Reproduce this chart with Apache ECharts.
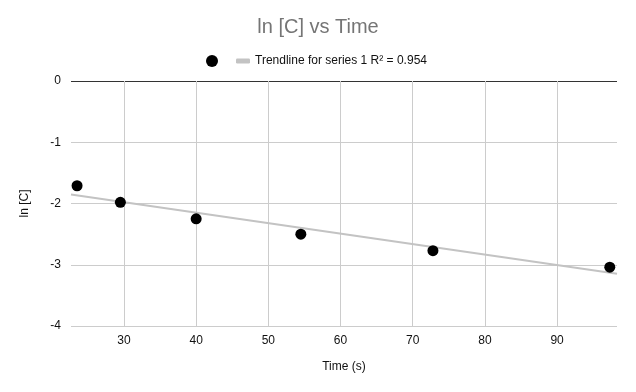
<!DOCTYPE html>
<html><head><meta charset="utf-8">
<script src="https://cdn.jsdelivr.net/npm/echarts@6/dist/echarts.min.js"></script>
<style>html,body{margin:0;padding:0;background:#fff}#c{width:636px;height:392px}</style>
</head><body><div id="c"></div>
<script>
const timeValues = [23.5, 29.5, 40.0, 54.5, 72.8, 97.3];
const lnCValues = [-1.71, -1.98, -2.25, -2.50, -2.77, -3.04];
const trendX = [22.66, 98.3];
const trendY = [-1.852, -3.148];
const yTicks = [-4, -3, -2, -1, 0];
const seriesName = 'ln [C]';
const trendName = 'Trendline for series 1 R² = 0.954';

const font = 'Liberation Sans, Arial, sans-serif';
const chart = echarts.init(document.getElementById('c'));
chart.setOption({
  animation: false,
  textStyle: {fontFamily: font},
  title: {text: 'ln [C] vs Time', left: 'center', top: 12,
    textStyle: {fontFamily: font, fontSize: 20, fontWeight: 'normal', color: '#757575'}},
  legend: [
    {data: [seriesName], left: 201, top: 50, icon: 'circle', itemWidth: 12, itemHeight: 12,
     formatter: () => '', selectedMode: false, itemStyle: {opacity: 1}},
    {data: [trendName], left: 231, top: 50, icon: 'roundRect', itemWidth: 14, itemHeight: 5,
     itemGap: 5, selectedMode: false,
     textStyle: {fontFamily: font, fontSize: 12, color: '#111'}}
  ],
  grid: {left: 71, right: 19, top: 81, bottom: 66},
  xAxis: {
    type: 'value', min: trendX[0], max: trendX[1], splitNumber: 8,
    name: 'Time (s)', nameLocation: 'middle', nameGap: 35,
    nameTextStyle: {fontFamily: font, fontSize: 12, color: '#111'},
    axisLine: {show: false}, axisTick: {show: false},
    axisLabel: {fontFamily: font, fontSize: 12, color: '#111', margin: 9,
      showMinLabel: false, showMaxLabel: false,
      formatter: v => (Math.abs(v % 10) < 1e-6 ? String(v) : '')},
    splitLine: {show: true, showMinLine: false, showMaxLine: false, lineStyle: {color: '#cccccc', width: 1}}
  },
  yAxis: {
    type: 'value', min: yTicks[0], max: yTicks[yTicks.length - 1], interval: 1,
    name: 'ln [C]', nameLocation: 'middle', nameGap: 40, nameRotate: 90,
    nameTextStyle: {fontFamily: font, fontSize: 12, color: '#111'},
    axisLine: {show: false}, axisTick: {show: false},
    axisLabel: {fontFamily: font, fontSize: 12, color: '#111', margin: 10},
    splitLine: {show: true, lineStyle: {color: ['#cccccc', '#cccccc', '#cccccc', '#cccccc', '#333333'], width: 1}}
  },
  series: [
    {name: trendName, type: 'line', data: trendX.map((x, i) => [x, trendY[i]]),
     symbol: 'none', lineStyle: {color: '#c3c3c3', width: 2}, itemStyle: {color: '#c3c3c3'}, z: 2},
    {name: seriesName, type: 'scatter', data: timeValues.map((x, i) => [x, lnCValues[i]]),
     symbolSize: 11, itemStyle: {color: '#000', opacity: 1}, z: 3}
  ]
});
</script></body></html>
